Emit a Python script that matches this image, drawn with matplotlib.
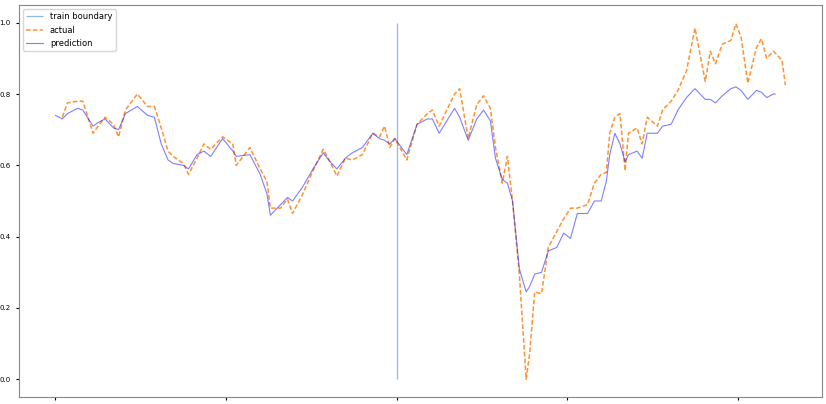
import matplotlib
matplotlib.use("Agg")
import matplotlib.pyplot as plt
import numpy as np

idx = [0,4,7,13,16,22,25,29,34,37,41,48,54,58,62,66,69,75,78,83,87,91,98,104,106,
       114,120,124,126,132,136,139,145,151,157,161,165,170,174,180,186,190,193,196,199,
       206,212,218,221,225,234,237,242,247,251,255,258,262,265,268,272,276,278,281,285,
       289,294,298,302,306,312,316,320,323,325,328,331,334,336,341,344,347,353,356,361,
       365,370,375,381,384,387,391,396,399,402,406,411,414,417,421,422,426,428]
pred = [.74,.73,.745,.76,.755,.71,.72,.73,.705,.70,.745,.765,.74,.735,.66,.615,.605,.60,.59,.63,.64,.625,.675,.64,.625,
        .63,.575,.52,.46,.49,.51,.50,.54,.59,.635,.61,.59,.62,.635,.65,.69,.675,.67,.66,.675,
        .63,.715,.73,.73,.69,.76,.735,.67,.73,.755,.725,.62,.56,.55,.50,.31,.245,.26,.295,.30,
        .36,.37,.41,.395,.465,.465,.50,.50,.555,.63,.69,.66,.61,.63,.64,.62,.69,.69,.71,.715,
        .755,.79,.815,.785,.785,.775,.795,.815,.82,.81,.785,.81,.805,.79,.80,.80,None,None]
actual = [None,.735,.775,.78,.78,.69,.71,.735,.715,.68,.755,.80,.765,.765,.705,.64,.625,.605,.575,.62,.66,.645,.68,.66,.60,
          .65,.59,.555,.48,.48,.505,.465,.52,.585,.645,.61,.57,.62,.615,.63,.69,.68,.71,.65,.675,
          .615,.715,.745,.755,.71,.80,.815,.675,.77,.795,.76,.65,.55,.625,.50,.295,.0,.07,.245,.24,
          .37,.415,.45,.48,.48,.49,.55,.575,.58,.69,.735,.745,.585,.69,.705,.66,.735,.71,.755,.78,
          .81,.865,.985,.835,.92,.885,.94,.95,.997,.96,.83,.93,.955,.90,.92,None,.895,.825]
boundary = 200

pi = [i for i, v in zip(idx, pred) if v is not None]
pv = [v for v in pred if v is not None]
ai = [i for i, v in zip(idx, actual) if v is not None]
av = [v for v in actual if v is not None]

fig = plt.figure(figsize=(8.26, 4.04), dpi=100)
ax = fig.add_axes([0.023, 0.017, 0.972, 0.971])
ax.vlines(boundary, 0, 1, colors='#8fbbe0', linewidth=0.9, label='train boundary')
ax.plot(ai, av, '--', color='#ff7f0e', linewidth=1.1, alpha=0.85, dashes=(3, 1.5), label='actual')
ax.plot(pi, pv, '-', color='blue', alpha=0.5, linewidth=0.8, label='prediction')
ax.tick_params(labelsize=5, length=2.5)
ax.set_yticks([0.0, 0.2, 0.4, 0.6, 0.8, 1.0])
ax.set_xticks([0, 100, 200, 300, 400])
for s in ax.spines.values():
    s.set_color('#888888')
ax.legend(loc='upper left', fontsize=6, framealpha=0.8)
fig.savefig('out.png', dpi=100)
